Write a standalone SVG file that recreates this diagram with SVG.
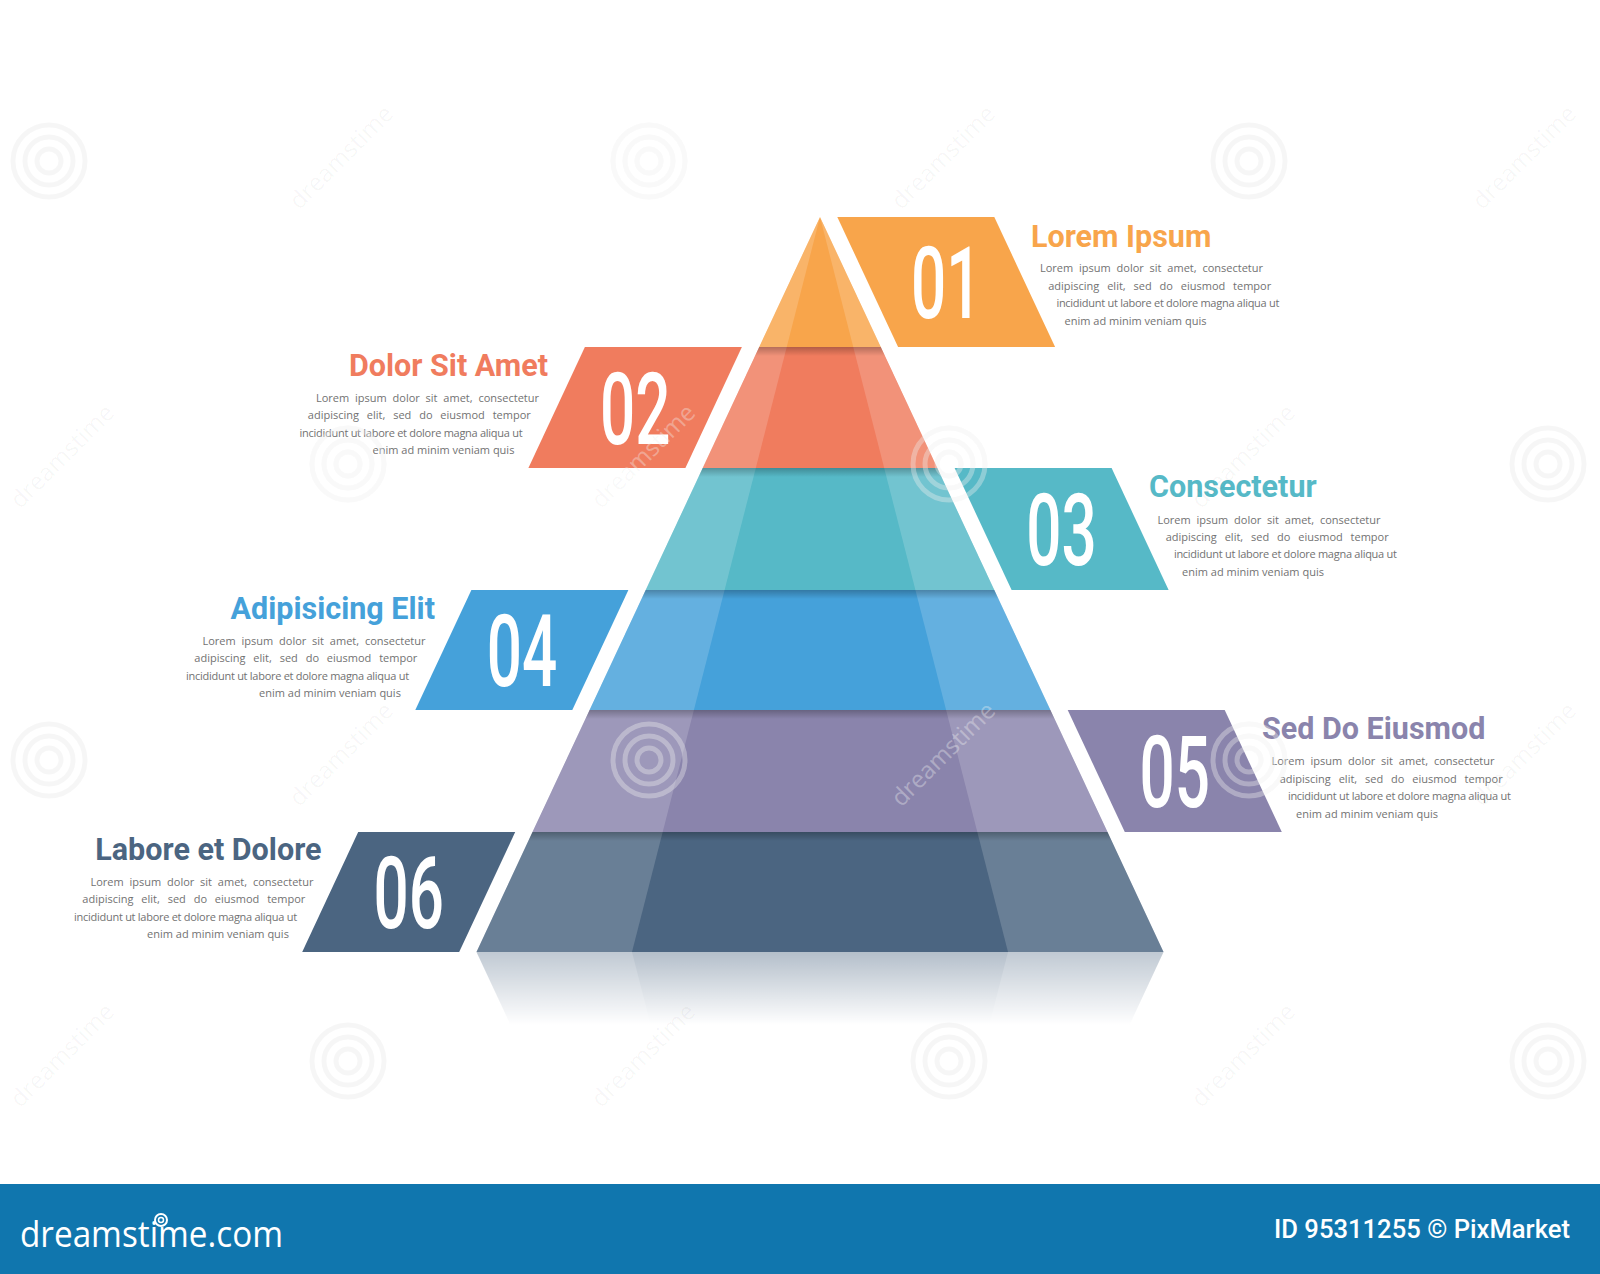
<svg xmlns="http://www.w3.org/2000/svg" xmlns:xlink="http://www.w3.org/1999/xlink" width="1600" height="1274" viewBox="0 0 1600 1274">
<style>
.body{font-family:"Open Sans","Liberation Sans",sans-serif;font-size:11px;fill:#727272}
.title{font-family:Roboto,"Liberation Sans",sans-serif;font-weight:700;font-size:30.5px}
.num{font-family:Roboto,"Liberation Sans",sans-serif;font-weight:500;font-size:100px;fill:#fff;text-anchor:middle}
.end{text-anchor:end}
.orange{fill:#f8a54b}.coral{fill:#f07c5e}.teal{fill:#56b9c7}.blue{fill:#45a1da}.purple{fill:#8a84ac}.slate{fill:#4b6581}
.wm{font-family:"Open Sans","Liberation Sans",sans-serif;font-size:24px;text-anchor:middle}
.ring{fill:none;stroke-width:5}
</style>
<defs>
<clipPath id="pyr"><polygon points="820,217 1163.5,952 476.5,952"/></clipPath>
<linearGradient id="shadow" x1="0" y1="0" x2="0" y2="1">
<stop offset="0" stop-color="#000" stop-opacity="0.25"/>
<stop offset="1" stop-color="#000" stop-opacity="0"/>
</linearGradient>
<linearGradient id="fade" x1="0" y1="952" x2="0" y2="1025" gradientUnits="userSpaceOnUse">
<stop offset="0" stop-color="#fff" stop-opacity="0.42"/>
<stop offset="1" stop-color="#fff" stop-opacity="0"/>
</linearGradient>
<mask id="reflMask"><rect x="440" y="952" width="760" height="90" fill="url(#fade)"/></mask>
<g id="spiral">
<circle r="36" class="ring"/><circle r="24" class="ring"/><circle r="12" class="ring"/>
</g>
</defs>
<rect width="1600" height="1274" fill="#fff"/>

<g id="level-01">
<polygon class="orange" points="820,217 880.8,347 759.2,347"/>
<polygon class="orange" points="837.3,217 994.3,217 1055.1,347 898.1,347"/>
<text class="num" transform="translate(946.2,318) scale(0.62,1)">01</text>
<text class="title orange" x="1031" y="247">Lorem Ipsum</text>
<g class="body">
<text x="1040" y="272.4" textLength="223" lengthAdjust="spacing" word-spacing="3">Lorem ipsum dolor sit amet, consectetur</text>
<text x="1048.2" y="289.8" textLength="223" lengthAdjust="spacing" word-spacing="5">adipiscing elit, sed do eiusmod tempor</text>
<text x="1056.4" y="307.2" textLength="223" lengthAdjust="spacing">incididunt ut labore et dolore magna aliqua ut</text>
<text x="1064.6" y="324.6">enim ad minim veniam quis</text>
</g>
</g>

<g id="level-02">
<polygon class="coral" points="759.2,347 880.8,347 937.3,468 702.7,468"/>
<polygon class="coral" points="584.9,347 741.9,347 685.4,468 528.4,468"/>
<text class="num" transform="translate(635.2,443.5) scale(0.62,1)">02</text>
<text class="title coral end" x="548" y="376">Dolor Sit Amet</text>
<g class="body">
<text x="316" y="402" textLength="223" lengthAdjust="spacing" word-spacing="3">Lorem ipsum dolor sit amet, consectetur</text>
<text x="307.8" y="419.4" textLength="223" lengthAdjust="spacing" word-spacing="5">adipiscing elit, sed do eiusmod tempor</text>
<text x="299.6" y="436.8" textLength="223" lengthAdjust="spacing">incididunt ut labore et dolore magna aliqua ut</text>
<text class="end" x="514.4" y="454.2">enim ad minim veniam quis</text>
</g>
</g>

<g id="level-03">
<polygon class="teal" points="702.7,468 937.3,468 994.3,590 645.7,590"/>
<polygon class="teal" points="954.6,468 1111.6,468 1168.6,590 1011.6,590"/>
<text class="num" transform="translate(1061.6,565) scale(0.62,1)">03</text>
<text class="title teal" x="1149" y="497">Consectetur</text>
<g class="body">
<text x="1157.5" y="523.5" textLength="223" lengthAdjust="spacing" word-spacing="3">Lorem ipsum dolor sit amet, consectetur</text>
<text x="1165.7" y="540.9" textLength="223" lengthAdjust="spacing" word-spacing="5">adipiscing elit, sed do eiusmod tempor</text>
<text x="1173.9" y="558.3" textLength="223" lengthAdjust="spacing">incididunt ut labore et dolore magna aliqua ut</text>
<text x="1182.1" y="575.7">enim ad minim veniam quis</text>
</g>
</g>

<g id="level-04">
<polygon class="blue" points="645.7,590 994.3,590 1050.4,710 589.6,710"/>
<polygon class="blue" points="471.4,590 628.4,590 572.3,710 415.3,710"/>
<text class="num" transform="translate(521.9,686) scale(0.62,1)">04</text>
<text class="title blue end" x="435" y="619">Adipisicing Elit</text>
<g class="body">
<text x="202.5" y="645" textLength="223" lengthAdjust="spacing" word-spacing="3">Lorem ipsum dolor sit amet, consectetur</text>
<text x="194.3" y="662.4" textLength="223" lengthAdjust="spacing" word-spacing="5">adipiscing elit, sed do eiusmod tempor</text>
<text x="186.1" y="679.8" textLength="223" lengthAdjust="spacing">incididunt ut labore et dolore magna aliqua ut</text>
<text class="end" x="400.9" y="697.2">enim ad minim veniam quis</text>
</g>
</g>

<g id="level-05">
<polygon class="purple" points="589.6,710 1050.4,710 1107.5,832 532.5,832"/>
<polygon class="purple" points="1067.7,710 1224.7,710 1281.8,832 1124.8,832"/>
<text class="num" transform="translate(1174.75,807) scale(0.62,1)">05</text>
<text class="title purple" x="1262" y="739">Sed Do Eiusmod</text>
<g class="body">
<text x="1271.5" y="765.3" textLength="223" lengthAdjust="spacing" word-spacing="3">Lorem ipsum dolor sit amet, consectetur</text>
<text x="1279.7" y="782.7" textLength="223" lengthAdjust="spacing" word-spacing="5">adipiscing elit, sed do eiusmod tempor</text>
<text x="1287.9" y="800.1" textLength="223" lengthAdjust="spacing">incididunt ut labore et dolore magna aliqua ut</text>
<text x="1296.1" y="817.5">enim ad minim veniam quis</text>
</g>
</g>

<g id="level-06">
<polygon class="slate" points="532.5,832 1107.5,832 1163.5,952 476.5,952"/>
<polygon class="slate" points="358.2,832 515.2,832 459.2,952 302.2,952"/>
<text class="num" transform="translate(408.7,928) scale(0.62,1)">06</text>
<text class="title slate end" x="321.5" y="860">Labore et Dolore</text>
<g class="body">
<text x="90.5" y="886" textLength="223" lengthAdjust="spacing" word-spacing="3">Lorem ipsum dolor sit amet, consectetur</text>
<text x="82.3" y="903.4" textLength="223" lengthAdjust="spacing" word-spacing="5">adipiscing elit, sed do eiusmod tempor</text>
<text x="74.1" y="920.8" textLength="223" lengthAdjust="spacing">incididunt ut labore et dolore magna aliqua ut</text>
<text class="end" x="288.9" y="938.2">enim ad minim veniam quis</text>
</g>
</g>

<g id="pyramid-shading" clip-path="url(#pyr)">
<polygon points="820,217 476.5,952 632,952" fill="#fff" fill-opacity="0.17"/>
<polygon points="820,217 1008,952 1163.5,952" fill="#fff" fill-opacity="0.17"/>
<rect x="450" y="347" width="740" height="9" fill="url(#shadow)"/>
<rect x="450" y="468" width="740" height="9" fill="url(#shadow)"/>
<rect x="450" y="590" width="740" height="9" fill="url(#shadow)"/>
<rect x="450" y="710" width="740" height="9" fill="url(#shadow)"/>
<rect x="450" y="832" width="740" height="9" fill="url(#shadow)"/>
</g>

<g id="reflection" mask="url(#reflMask)">
<polygon class="slate" points="476.5,952 1163.5,952 1107.5,1072 532.5,1072"/>
<polygon points="476.5,952 632,952 652,1030 511,1030" fill="#fff" fill-opacity="0.17"/>
<polygon points="1008,952 1163.5,952 1127,1030 988,1030" fill="#fff" fill-opacity="0.17"/>
</g>

<g id="watermark">
<g stroke="#000" stroke-opacity="0.035">
<use xlink:href="#spiral" x="49" y="161"/><use xlink:href="#spiral" x="649" y="161"/><use xlink:href="#spiral" x="1249" y="161"/>
<use xlink:href="#spiral" x="348" y="464"/><use xlink:href="#spiral" x="949" y="464"/><use xlink:href="#spiral" x="1548" y="464"/>
<use xlink:href="#spiral" x="49" y="760"/><use xlink:href="#spiral" x="649" y="760"/><use xlink:href="#spiral" x="1249" y="760"/>
<use xlink:href="#spiral" x="348" y="1061"/><use xlink:href="#spiral" x="949" y="1061"/><use xlink:href="#spiral" x="1548" y="1061"/>
</g>
<g stroke="#fff" stroke-opacity="0.35">
<use xlink:href="#spiral" x="649" y="161"/><use xlink:href="#spiral" x="949" y="464"/><use xlink:href="#spiral" x="649" y="760"/><use xlink:href="#spiral" x="1249" y="760"/><use xlink:href="#spiral" x="348" y="464"/>
</g>
<g class="wm" fill="#000" fill-opacity="0.04">
<text transform="translate(347,163) rotate(-45)">dreamstime</text>
<text transform="translate(949,163) rotate(-45)">dreamstime</text>
<text transform="translate(1530,163) rotate(-45)">dreamstime</text>
<text transform="translate(68,462) rotate(-45)">dreamstime</text>
<text transform="translate(649,462) rotate(-45)">dreamstime</text>
<text transform="translate(1249,462) rotate(-45)">dreamstime</text>
<text transform="translate(347,760) rotate(-45)">dreamstime</text>
<text transform="translate(949,760) rotate(-45)">dreamstime</text>
<text transform="translate(1530,760) rotate(-45)">dreamstime</text>
<text transform="translate(68,1061) rotate(-45)">dreamstime</text>
<text transform="translate(649,1061) rotate(-45)">dreamstime</text>
<text transform="translate(1249,1061) rotate(-45)">dreamstime</text>
</g>
<g class="wm" fill="#fff" fill-opacity="0.35">
<text transform="translate(649,462) rotate(-45)">dreamstime</text>
<text transform="translate(949,760) rotate(-45)">dreamstime</text>
</g>
</g>

<g id="footer">
<rect x="0" y="1184" width="1600" height="90" fill="#1076ae"/>
<text x="20" y="1247" font-family="'Open Sans','Liberation Sans',sans-serif" font-size="36" fill="#fff" textLength="263" lengthAdjust="spacingAndGlyphs">dreamstime.com</text>
<circle cx="161" cy="1220" r="6" fill="none" stroke="#fff" stroke-width="2"/>
<circle cx="161" cy="1220" r="2.5" fill="none" stroke="#fff" stroke-width="1.5"/>
<text x="1570" y="1238" font-family="Roboto,'Liberation Sans',sans-serif" font-weight="500" font-size="25.5" fill="#fff" text-anchor="end" textLength="296" lengthAdjust="spacingAndGlyphs">ID 95311255 © PixMarket</text>
</g>
</svg>
